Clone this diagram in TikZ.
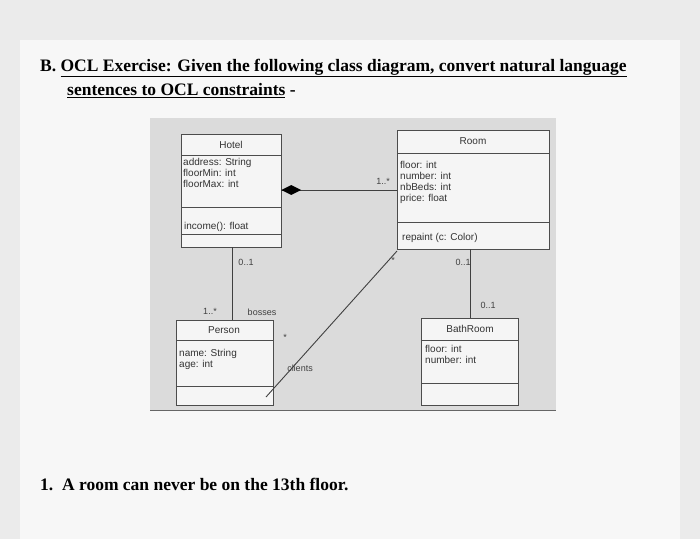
\documentclass[tikz,border=0pt]{standalone}
\usepackage{fontspec}
\setmainfont{Liberation Serif}
\newfontfamily\diag{Liberation Sans}
\usetikzlibrary{shapes.geometric}
\begin{document}
\begin{tikzpicture}[x=1pt,y=-1pt,
  cell/.style={draw=black!70,line width=0.8pt,fill=white!92!gray},
  lbl/.style={font=\diag\fontsize{10}{11}\selectfont,anchor=west,inner sep=1pt,text=black!80,align=left},
  mult/.style={font=\diag\fontsize{9}{10}\selectfont,inner sep=1pt,text=black!75},
  head/.style={font=\bfseries\fontsize{17.5}{19}\selectfont,anchor=west,inner sep=0pt},
  link/.style={draw=black!75,line width=0.9pt}]
\useasboundingbox[fill=black!8] (0,0) rectangle (700,539);
\fill[black!3] (20,40) rectangle (680,539);
\fill[black!14] (150,118) rectangle (556,410);
\draw[black!60,line width=1pt] (150,410) -- (556,410);
\node[head] (t1) at (40,68) {B.\ \underline{OCL Exercise: Given the following class diagram, convert natural language}};
\node[head] (t2) at (67,91) {\underline{sentences to OCL constraints} -};
\node[head] (q1) at (40,484) {1.\ \ A room can never be on the 13th floor.};
% Hotel
\draw[cell] (181,134) rectangle (281,155); \draw[cell] (181,155) rectangle (281,207);
\draw[cell] (181,207) rectangle (281,234); \draw[cell] (181,234) rectangle (281,247);
\node[lbl,anchor=center] (h) at (231,145) {Hotel};
\node[lbl,anchor=north west] (ha) at (182,157) {address: String\\floorMin: int\\floorMax: int};
\node[lbl] (ho) at (183,227) {income(): float};
\coordinate (hr) at (281,190); \coordinate (hb) at (232,247);
% Room
\draw[cell] (397,130) rectangle (549,153); \draw[cell] (397,153) rectangle (549,222);
\draw[cell] (397,222) rectangle (549,249);
\node[lbl,anchor=center] (r) at (473,141) {Room};
\node[lbl,anchor=north west] (ra) at (399,160) {floor: int\\number: int\\nbBeds: int\\price: float};
\node[lbl] (ro) at (401,238) {repaint (c: Color)};
\coordinate (rl) at (397,190); \coordinate (rb) at (470,249); \coordinate (rc) at (397,251);
% Person
\draw[cell] (176,320) rectangle (273,340); \draw[cell] (176,340) rectangle (273,386);
\draw[cell] (176,386) rectangle (273,405);
\node[lbl,anchor=center] (p) at (224,330) {Person};
\node[lbl,anchor=north west] (pa) at (178,348) {name: String\\age: int};
\coordinate (pt) at (232,320); \coordinate (pr) at (266,397);
% BathRoom
\draw[cell] (421,318) rectangle (518,340); \draw[cell] (421,340) rectangle (518,383);
\draw[cell] (421,383) rectangle (518,405);
\node[lbl,anchor=center] (b) at (470,329) {BathRoom};
\node[lbl,anchor=north west] (ba) at (424,344) {floor: int\\number: int};
\coordinate (bt) at (470,318);
% links
\draw[link] (hr) -- (rl);
\node[diamond,fill=black,inner sep=0pt,minimum width=20pt,minimum height=10pt,anchor=west] (d) at (hr) {};
\draw[link] (hb) -- (pt);
\draw[link] (rb) -- (bt);
\draw[link] (pr) -- (rc);
\node[mult] (m1) at (383,181) {1..*};
\node[mult] (m2) at (246,262) {0..1};
\node[mult] (m3) at (210,311) {1..*};
\node[mult] (m4) at (262,312) {bosses};
\node[mult] (m5) at (463,262) {0..1};
\node[mult] (m6) at (488,305) {0..1};
\node[mult] (m7) at (300,368) {clients};
\node[mult] (m8) at (285,337) {*};
\node[mult] (m9) at (393,260) {*};
\end{tikzpicture}
\end{document}
